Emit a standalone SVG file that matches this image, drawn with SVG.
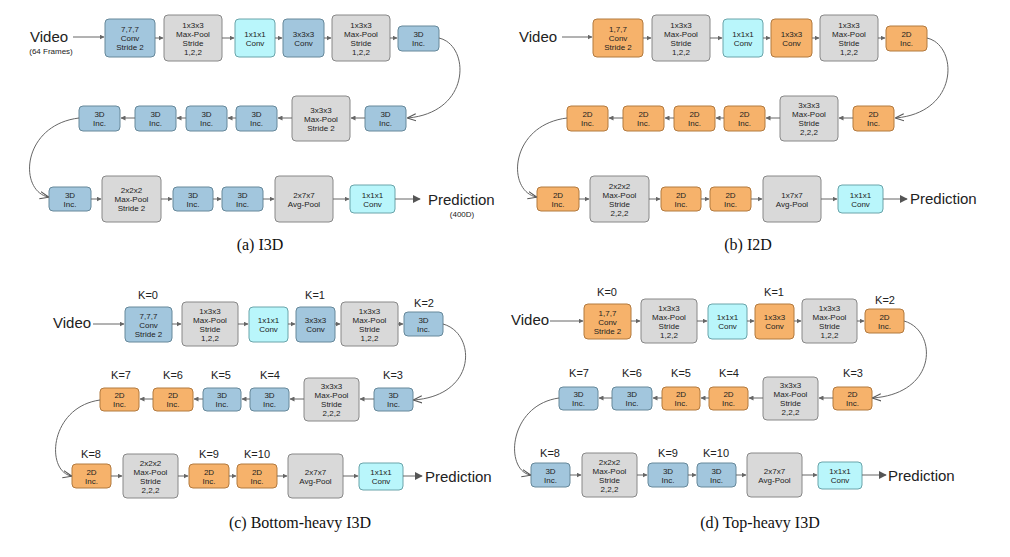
<svg xmlns="http://www.w3.org/2000/svg" width="1010" height="557" viewBox="0 0 1010 557">
<defs>
<marker id="ah" viewBox="0 0 10 10" refX="9" refY="5" markerWidth="5" markerHeight="5" orient="auto"><path d="M0,0L10,5L0,10z" fill="#666"/></marker>
<marker id="ab" viewBox="0 0 10 10" refX="9" refY="5" markerWidth="8" markerHeight="8" orient="auto"><path d="M0,0L10,5L0,10z" fill="#555"/></marker>
<marker id="ao" viewBox="0 0 10 10" refX="9" refY="5" markerWidth="9" markerHeight="9" orient="auto"><path d="M0,1L10,5L0,9" fill="none" stroke="#555" stroke-width="1.2"/></marker>
<style>
rect{stroke-width:1;rx:4}
.b{fill:#a2c6dd;stroke:#66889a}
.o{fill:#f6b26b;stroke:#b27a3f}
.g{fill:#d9d9d9;stroke:#888}
.c{fill:#b9f6fb;stroke:#6aa4aa}
text{font-family:"Liberation Sans",Arial,sans-serif;fill:#222}
.t{font-size:8px;text-anchor:middle}
.k{font-size:11px;text-anchor:middle}
.v{font-size:15px}
.s{font-size:8px;text-anchor:middle}
.cap{font-family:"Liberation Serif","Times New Roman",serif;font-size:16px;text-anchor:middle;fill:#111}
.e path,.e line{stroke:#666;stroke-width:1;fill:none}
</style>
</defs>

<!-- ===== Panel (a) ===== -->
<g id="a-nodes">
<text class="v" x="30" y="42">Video</text><text class="s" x="51" y="54">(64 Frames)</text>
<g id="a1"><rect class="b" x="105" y="19" width="50" height="38"/><text class="t" x="130" y="32">7,7,7</text><text class="t" x="130" y="41">Conv</text><text class="t" x="130" y="50">Stride 2</text></g>
<g id="a2"><rect class="g" x="164" y="15" width="58" height="46"/><text class="t" x="193" y="27.5">1x3x3</text><text class="t" x="193" y="36.5">Max-Pool</text><text class="t" x="193" y="45.5">Stride</text><text class="t" x="193" y="54.5">1,2,2</text></g>
<g id="a3"><rect class="c" x="235" y="19" width="40" height="38"/><text class="t" x="255" y="36.5">1x1x1</text><text class="t" x="255" y="45.5">Conv</text></g>
<g id="a4"><rect class="b" x="283" y="19" width="41" height="38"/><text class="t" x="303.5" y="36.5">3x3x3</text><text class="t" x="303.5" y="45.5">Conv</text></g>
<g id="a5"><rect class="g" x="332" y="15" width="58" height="46"/><text class="t" x="361" y="27.5">1x3x3</text><text class="t" x="361" y="36.5">Max-Pool</text><text class="t" x="361" y="45.5">Stride</text><text class="t" x="361" y="54.5">1,2,2</text></g>
<g id="a6"><rect class="b" x="398" y="26" width="41" height="25"/><text class="t" x="418.5" y="36.5">3D</text><text class="t" x="418.5" y="45.5">Inc.</text></g>
<g id="a7"><rect class="b" x="365" y="106" width="41" height="25"/><text class="t" x="385.5" y="117">3D</text><text class="t" x="385.5" y="126">Inc.</text></g>
<g id="a8"><rect class="g" x="292" y="96" width="58" height="45"/><text class="t" x="321" y="112.5">3x3x3</text><text class="t" x="321" y="121.5">Max-Pool</text><text class="t" x="321" y="130.5">Stride 2</text></g>
<g id="a9"><rect class="b" x="236" y="106" width="41" height="25"/><text class="t" x="256.5" y="117">3D</text><text class="t" x="256.5" y="126">Inc.</text></g>
<g id="a10"><rect class="b" x="186" y="106" width="41" height="25"/><text class="t" x="206.5" y="117">3D</text><text class="t" x="206.5" y="126">Inc.</text></g>
<g id="a11"><rect class="b" x="135" y="106" width="41" height="25"/><text class="t" x="155.5" y="117">3D</text><text class="t" x="155.5" y="126">Inc.</text></g>
<g id="a12"><rect class="b" x="79" y="106" width="41" height="25"/><text class="t" x="99.5" y="117">3D</text><text class="t" x="99.5" y="126">Inc.</text></g>
<g id="a13"><rect class="b" x="49" y="187" width="42" height="24"/><text class="t" x="70" y="197.5">3D</text><text class="t" x="70" y="206.5">Inc.</text></g>
<g id="a14"><rect class="g" x="102" y="176" width="59" height="46"/><text class="t" x="131.5" y="193">2x2x2</text><text class="t" x="131.5" y="202">Max-Pool</text><text class="t" x="131.5" y="211">Stride 2</text></g>
<g id="a15"><rect class="b" x="173" y="187" width="40" height="24"/><text class="t" x="193" y="197.5">3D</text><text class="t" x="193" y="206.5">Inc.</text></g>
<g id="a16"><rect class="b" x="222" y="187" width="41" height="24"/><text class="t" x="242.5" y="197.5">3D</text><text class="t" x="242.5" y="206.5">Inc.</text></g>
<g id="a17"><rect class="g" x="275" y="176" width="58" height="46"/><text class="t" x="304" y="197.5">2x7x7</text><text class="t" x="304" y="206.5">Avg-Pool</text></g>
<g id="a18"><rect class="c" x="350" y="185" width="45" height="28"/><text class="t" x="372.5" y="197.5">1x1x1</text><text class="t" x="372.5" y="206.5">Conv</text></g>
<text class="v" x="428" y="205">Prediction</text><text class="s" x="462" y="217">(400D)</text>
</g>
<g id="a-edges" class="e">
<line x1="73" y1="37" x2="104" y2="37" marker-end="url(#ah)"/>
<line x1="155" y1="38" x2="163" y2="38" marker-end="url(#ah)"/>
<line x1="222" y1="38" x2="234" y2="38" marker-end="url(#ah)"/>
<line x1="275" y1="38" x2="282" y2="38" marker-end="url(#ah)"/>
<line x1="324" y1="38" x2="331" y2="38" marker-end="url(#ah)"/>
<line x1="390" y1="38" x2="397" y2="38" marker-end="url(#ah)"/>
<path d="M439,38 C470,45 472,112 408,118" marker-end="url(#ao)"/>
<line x1="365" y1="118" x2="351" y2="118" marker-end="url(#ah)"/>
<line x1="292" y1="118" x2="278" y2="118" marker-end="url(#ah)"/>
<line x1="236" y1="118" x2="228" y2="118" marker-end="url(#ah)"/>
<line x1="186" y1="118" x2="177" y2="118" marker-end="url(#ah)"/>
<line x1="135" y1="118" x2="121" y2="118" marker-end="url(#ah)"/>
<path d="M79,118 C22,125 18,190 48,197" marker-end="url(#ao)"/>
<line x1="91" y1="199" x2="101" y2="199" marker-end="url(#ah)"/>
<line x1="161" y1="199" x2="172" y2="199" marker-end="url(#ah)"/>
<line x1="213" y1="199" x2="221" y2="199" marker-end="url(#ah)"/>
<line x1="263" y1="199" x2="274" y2="199" marker-end="url(#ah)"/>
<line x1="333" y1="199" x2="349" y2="199" marker-end="url(#ah)"/>
<line x1="395" y1="199" x2="420" y2="199" marker-end="url(#ab)"/>
</g>
<text class="cap" x="260" y="250">(a)  I3D</text>

<!-- ===== Panel (b) ===== -->
<g id="b-nodes">
<text class="v" x="519" y="42">Video</text>
<g id="b1"><rect class="o" x="593" y="19" width="50" height="38"/><text class="t" x="618" y="32">1,7,7</text><text class="t" x="618" y="41">Conv</text><text class="t" x="618" y="50">Stride 2</text></g>
<g id="b2"><rect class="g" x="652" y="15" width="58" height="46"/><text class="t" x="681" y="27.5">1x3x3</text><text class="t" x="681" y="36.5">Max-Pool</text><text class="t" x="681" y="45.5">Stride</text><text class="t" x="681" y="54.5">1,2,2</text></g>
<g id="b3"><rect class="c" x="723" y="19" width="40" height="38"/><text class="t" x="743" y="36.5">1x1x1</text><text class="t" x="743" y="45.5">Conv</text></g>
<g id="b4"><rect class="o" x="771" y="19" width="41" height="38"/><text class="t" x="791.5" y="36.5">1x3x3</text><text class="t" x="791.5" y="45.5">Conv</text></g>
<g id="b5"><rect class="g" x="820" y="15" width="58" height="46"/><text class="t" x="849" y="27.5">1x3x3</text><text class="t" x="849" y="36.5">Max-Pool</text><text class="t" x="849" y="45.5">Stride</text><text class="t" x="849" y="54.5">1,2,2</text></g>
<g id="b6"><rect class="o" x="886" y="26" width="41" height="25"/><text class="t" x="906.5" y="36.5">2D</text><text class="t" x="906.5" y="45.5">Inc.</text></g>
<g id="b7"><rect class="o" x="853" y="106" width="41" height="25"/><text class="t" x="873.5" y="117">2D</text><text class="t" x="873.5" y="126">Inc.</text></g>
<g id="b8"><rect class="g" x="780" y="96" width="58" height="45"/><text class="t" x="809" y="108">3x3x3</text><text class="t" x="809" y="117">Max-Pool</text><text class="t" x="809" y="126">Stride</text><text class="t" x="809" y="135">2,2,2</text></g>
<g id="b9"><rect class="o" x="724" y="106" width="41" height="25"/><text class="t" x="744.5" y="117">2D</text><text class="t" x="744.5" y="126">Inc.</text></g>
<g id="b10"><rect class="o" x="674" y="106" width="41" height="25"/><text class="t" x="694.5" y="117">2D</text><text class="t" x="694.5" y="126">Inc.</text></g>
<g id="b11"><rect class="o" x="623" y="106" width="41" height="25"/><text class="t" x="643.5" y="117">2D</text><text class="t" x="643.5" y="126">Inc.</text></g>
<g id="b12"><rect class="o" x="567" y="106" width="41" height="25"/><text class="t" x="587.5" y="117">2D</text><text class="t" x="587.5" y="126">Inc.</text></g>
<g id="b13"><rect class="o" x="537" y="187" width="42" height="24"/><text class="t" x="558" y="197.5">2D</text><text class="t" x="558" y="206.5">Inc.</text></g>
<g id="b14"><rect class="g" x="590" y="176" width="59" height="46"/><text class="t" x="619.5" y="188.5">2x2x2</text><text class="t" x="619.5" y="197.5">Max-Pool</text><text class="t" x="619.5" y="206.5">Stride</text><text class="t" x="619.5" y="215.5">2,2,2</text></g>
<g id="b15"><rect class="o" x="661" y="187" width="40" height="24"/><text class="t" x="681" y="197.5">2D</text><text class="t" x="681" y="206.5">Inc.</text></g>
<g id="b16"><rect class="o" x="710" y="187" width="41" height="24"/><text class="t" x="730.5" y="197.5">2D</text><text class="t" x="730.5" y="206.5">Inc.</text></g>
<g id="b17"><rect class="g" x="763" y="176" width="58" height="46"/><text class="t" x="792" y="197.5">1x7x7</text><text class="t" x="792" y="206.5">Avg-Pool</text></g>
<g id="b18"><rect class="c" x="838" y="185" width="45" height="28"/><text class="t" x="860.5" y="197.5">1x1x1</text><text class="t" x="860.5" y="206.5">Conv</text></g>
<text class="v" x="910" y="204">Prediction</text>
</g>
<g id="b-edges" class="e">
<line x1="562" y1="37" x2="592" y2="37" marker-end="url(#ah)"/>
<line x1="643" y1="38" x2="651" y2="38" marker-end="url(#ah)"/>
<line x1="710" y1="38" x2="722" y2="38" marker-end="url(#ah)"/>
<line x1="763" y1="38" x2="770" y2="38" marker-end="url(#ah)"/>
<line x1="812" y1="38" x2="819" y2="38" marker-end="url(#ah)"/>
<line x1="878" y1="38" x2="885" y2="38" marker-end="url(#ah)"/>
<path d="M927,38 C958,45 960,112 896,118" marker-end="url(#ao)"/>
<line x1="853" y1="118" x2="839" y2="118" marker-end="url(#ah)"/>
<line x1="780" y1="118" x2="766" y2="118" marker-end="url(#ah)"/>
<line x1="724" y1="118" x2="716" y2="118" marker-end="url(#ah)"/>
<line x1="674" y1="118" x2="665" y2="118" marker-end="url(#ah)"/>
<line x1="623" y1="118" x2="609" y2="118" marker-end="url(#ah)"/>
<path d="M567,118 C510,125 506,190 536,197" marker-end="url(#ao)"/>
<line x1="579" y1="199" x2="589" y2="199" marker-end="url(#ah)"/>
<line x1="649" y1="199" x2="660" y2="199" marker-end="url(#ah)"/>
<line x1="701" y1="199" x2="709" y2="199" marker-end="url(#ah)"/>
<line x1="751" y1="199" x2="762" y2="199" marker-end="url(#ah)"/>
<line x1="821" y1="199" x2="837" y2="199" marker-end="url(#ah)"/>
<line x1="883" y1="199" x2="907" y2="199" marker-end="url(#ab)"/>
</g>
<text class="cap" x="748" y="250">(b)  I2D</text>

<!-- ===== Panel (c) ===== -->
<g id="c-nodes">
<text class="v" x="53" y="328">Video</text>
<text class="k" x="148" y="299">K=0</text><text class="k" x="315" y="299">K=1</text><text class="k" x="424" y="307">K=2</text>
<g id="c1"><rect class="b" x="125" y="307" width="47" height="35"/><text class="t" x="148.5" y="318.5">7,7,7</text><text class="t" x="148.5" y="327.5">Conv</text><text class="t" x="148.5" y="336.5">Stride 2</text></g>
<g id="c2"><rect class="g" x="182" y="302" width="56" height="44"/><text class="t" x="210" y="314">1x3x3</text><text class="t" x="210" y="323">Max-Pool</text><text class="t" x="210" y="332">Stride</text><text class="t" x="210" y="341">1,2,2</text></g>
<g id="c3"><rect class="c" x="249" y="307" width="39" height="35"/><text class="t" x="268.5" y="323">1x1x1</text><text class="t" x="268.5" y="332">Conv</text></g>
<g id="c4"><rect class="b" x="296" y="307" width="39" height="35"/><text class="t" x="315.5" y="323">3x3x3</text><text class="t" x="315.5" y="332">Conv</text></g>
<g id="c5"><rect class="g" x="341" y="302" width="57" height="44"/><text class="t" x="369.5" y="314">1x3x3</text><text class="t" x="369.5" y="323">Max-Pool</text><text class="t" x="369.5" y="332">Stride</text><text class="t" x="369.5" y="341">1,2,2</text></g>
<g id="c6"><rect class="b" x="404" y="312" width="39" height="24"/><text class="t" x="423.5" y="322.5">3D</text><text class="t" x="423.5" y="331.5">Inc.</text></g>
<text class="k" x="393" y="379">K=3</text><text class="k" x="270" y="379">K=4</text><text class="k" x="221" y="379">K=5</text><text class="k" x="173" y="379">K=6</text><text class="k" x="121" y="379">K=7</text>
<g id="c7"><rect class="b" x="374" y="388" width="39" height="23"/><text class="t" x="393.5" y="398">3D</text><text class="t" x="393.5" y="407">Inc.</text></g>
<g id="c8"><rect class="g" x="304" y="378" width="55" height="43"/><text class="t" x="331.5" y="389">3x3x3</text><text class="t" x="331.5" y="398">Max-Pool</text><text class="t" x="331.5" y="407">Stride</text><text class="t" x="331.5" y="416">2,2,2</text></g>
<g id="c9"><rect class="b" x="250" y="388" width="39" height="23"/><text class="t" x="269.5" y="398">3D</text><text class="t" x="269.5" y="407">Inc.</text></g>
<g id="c10"><rect class="b" x="203" y="388" width="38" height="23"/><text class="t" x="222" y="398">3D</text><text class="t" x="222" y="407">Inc.</text></g>
<g id="c11"><rect class="o" x="153" y="388" width="40" height="23"/><text class="t" x="173" y="398">2D</text><text class="t" x="173" y="407">Inc.</text></g>
<g id="c12"><rect class="o" x="100" y="388" width="39" height="23"/><text class="t" x="119.5" y="398">2D</text><text class="t" x="119.5" y="407">Inc.</text></g>
<text class="k" x="91" y="458">K=8</text><text class="k" x="209" y="458">K=9</text><text class="k" x="257" y="458">K=10</text>
<g id="c13"><rect class="o" x="72" y="464" width="39" height="24"/><text class="t" x="91.5" y="474.5">2D</text><text class="t" x="91.5" y="483.5">Inc.</text></g>
<g id="c14"><rect class="g" x="123" y="454" width="55" height="44"/><text class="t" x="150.5" y="465.5">2x2x2</text><text class="t" x="150.5" y="474.5">Max-Pool</text><text class="t" x="150.5" y="483.5">Stride</text><text class="t" x="150.5" y="492.5">2,2,2</text></g>
<g id="c15"><rect class="o" x="189" y="464" width="40" height="24"/><text class="t" x="209" y="474.5">2D</text><text class="t" x="209" y="483.5">Inc.</text></g>
<g id="c16"><rect class="o" x="237" y="464" width="40" height="24"/><text class="t" x="257" y="474.5">2D</text><text class="t" x="257" y="483.5">Inc.</text></g>
<g id="c17"><rect class="g" x="288" y="454" width="55" height="44"/><text class="t" x="315.5" y="474.5">2x7x7</text><text class="t" x="315.5" y="483.5">Avg-Pool</text></g>
<g id="c18"><rect class="c" x="359" y="463" width="44" height="27"/><text class="t" x="381" y="474.5">1x1x1</text><text class="t" x="381" y="483.5">Conv</text></g>
<text class="v" x="425" y="482">Prediction</text>
</g>
<g id="c-edges" class="e">
<line x1="93" y1="324" x2="124" y2="324" marker-end="url(#ah)"/>
<line x1="172" y1="324" x2="181" y2="324" marker-end="url(#ah)"/>
<line x1="238" y1="324" x2="248" y2="324" marker-end="url(#ah)"/>
<line x1="288" y1="324" x2="295" y2="324" marker-end="url(#ah)"/>
<line x1="335" y1="324" x2="340" y2="324" marker-end="url(#ah)"/>
<line x1="398" y1="324" x2="403" y2="324" marker-end="url(#ah)"/>
<path d="M443,324 C476,333 478,395 414,400" marker-end="url(#ao)"/>
<line x1="374" y1="399" x2="360" y2="399" marker-end="url(#ah)"/>
<line x1="304" y1="399" x2="290" y2="399" marker-end="url(#ah)"/>
<line x1="250" y1="399" x2="242" y2="399" marker-end="url(#ah)"/>
<line x1="203" y1="399" x2="194" y2="399" marker-end="url(#ah)"/>
<line x1="153" y1="399" x2="140" y2="399" marker-end="url(#ah)"/>
<path d="M100,400 C50,407 45,470 71,476" marker-end="url(#ao)"/>
<line x1="111" y1="476" x2="122" y2="476" marker-end="url(#ah)"/>
<line x1="178" y1="476" x2="188" y2="476" marker-end="url(#ah)"/>
<line x1="229" y1="476" x2="236" y2="476" marker-end="url(#ah)"/>
<line x1="277" y1="476" x2="287" y2="476" marker-end="url(#ah)"/>
<line x1="343" y1="476" x2="358" y2="476" marker-end="url(#ah)"/>
<line x1="403" y1="476" x2="422" y2="476" marker-end="url(#ab)"/>
</g>
<text class="cap" x="300" y="528">(c)  Bottom-heavy I3D</text>

<!-- ===== Panel (d) ===== -->
<g id="d-nodes">
<text class="v" x="511" y="325">Video</text>
<text class="k" x="607" y="296">K=0</text><text class="k" x="774" y="296">K=1</text><text class="k" x="885" y="304">K=2</text>
<g id="d1"><rect class="o" x="584" y="304" width="47" height="35"/><text class="t" x="607.5" y="315.5">1,7,7</text><text class="t" x="607.5" y="324.5">Conv</text><text class="t" x="607.5" y="333.5">Stride 2</text></g>
<g id="d2"><rect class="g" x="641" y="299" width="56" height="44"/><text class="t" x="669" y="311">1x3x3</text><text class="t" x="669" y="320">Max-Pool</text><text class="t" x="669" y="329">Stride</text><text class="t" x="669" y="338">1,2,2</text></g>
<g id="d3"><rect class="c" x="708" y="304" width="39" height="35"/><text class="t" x="727.5" y="320">1x1x1</text><text class="t" x="727.5" y="329">Conv</text></g>
<g id="d4"><rect class="o" x="755" y="304" width="39" height="35"/><text class="t" x="774.5" y="320">1x3x3</text><text class="t" x="774.5" y="329">Conv</text></g>
<g id="d5"><rect class="g" x="802" y="299" width="55" height="44"/><text class="t" x="829.5" y="311">1x3x3</text><text class="t" x="829.5" y="320">Max-Pool</text><text class="t" x="829.5" y="329">Stride</text><text class="t" x="829.5" y="338">1,2,2</text></g>
<g id="d6"><rect class="o" x="865" y="309" width="39" height="24"/><text class="t" x="884.5" y="319.5">2D</text><text class="t" x="884.5" y="328.5">Inc.</text></g>
<text class="k" x="853" y="377">K=3</text><text class="k" x="729" y="377">K=4</text><text class="k" x="681" y="377">K=5</text><text class="k" x="632" y="377">K=6</text><text class="k" x="579" y="377">K=7</text>
<g id="d7"><rect class="o" x="833" y="387" width="39" height="23"/><text class="t" x="852.5" y="397">2D</text><text class="t" x="852.5" y="406">Inc.</text></g>
<g id="d8"><rect class="g" x="763" y="377" width="55" height="43"/><text class="t" x="790.5" y="388">3x3x3</text><text class="t" x="790.5" y="397">Max-Pool</text><text class="t" x="790.5" y="406">Stride</text><text class="t" x="790.5" y="415">2,2,2</text></g>
<g id="d9"><rect class="o" x="709" y="387" width="39" height="23"/><text class="t" x="728.5" y="397">2D</text><text class="t" x="728.5" y="406">Inc.</text></g>
<g id="d10"><rect class="o" x="662" y="387" width="38" height="23"/><text class="t" x="681" y="397">2D</text><text class="t" x="681" y="406">Inc.</text></g>
<g id="d11"><rect class="b" x="612" y="387" width="40" height="23"/><text class="t" x="632" y="397">3D</text><text class="t" x="632" y="406">Inc.</text></g>
<g id="d12"><rect class="b" x="559" y="387" width="39" height="23"/><text class="t" x="578.5" y="397">3D</text><text class="t" x="578.5" y="406">Inc.</text></g>
<text class="k" x="550" y="457">K=8</text><text class="k" x="668" y="457">K=9</text><text class="k" x="716" y="457">K=10</text>
<g id="d13"><rect class="b" x="531" y="463" width="39" height="24"/><text class="t" x="550.5" y="473.5">3D</text><text class="t" x="550.5" y="482.5">Inc.</text></g>
<g id="d14"><rect class="g" x="582" y="453" width="55" height="44"/><text class="t" x="609.5" y="464.5">2x2x2</text><text class="t" x="609.5" y="473.5">Max-Pool</text><text class="t" x="609.5" y="482.5">Stride</text><text class="t" x="609.5" y="491.5">2,2,2</text></g>
<g id="d15"><rect class="b" x="648" y="463" width="40" height="24"/><text class="t" x="668" y="473.5">3D</text><text class="t" x="668" y="482.5">Inc.</text></g>
<g id="d16"><rect class="b" x="697" y="463" width="39" height="24"/><text class="t" x="716.5" y="473.5">3D</text><text class="t" x="716.5" y="482.5">Inc.</text></g>
<g id="d17"><rect class="g" x="747" y="453" width="55" height="44"/><text class="t" x="774.5" y="473.5">2x7x7</text><text class="t" x="774.5" y="482.5">Avg-Pool</text></g>
<g id="d18"><rect class="c" x="818" y="462" width="44" height="27"/><text class="t" x="840" y="473.5">1x1x1</text><text class="t" x="840" y="482.5">Conv</text></g>
<text class="v" x="888" y="481">Prediction</text>
</g>
<g id="d-edges" class="e">
<line x1="550" y1="321" x2="583" y2="321" marker-end="url(#ah)"/>
<line x1="631" y1="321" x2="640" y2="321" marker-end="url(#ah)"/>
<line x1="697" y1="321" x2="707" y2="321" marker-end="url(#ah)"/>
<line x1="747" y1="321" x2="754" y2="321" marker-end="url(#ah)"/>
<line x1="794" y1="321" x2="801" y2="321" marker-end="url(#ah)"/>
<line x1="857" y1="321" x2="864" y2="321" marker-end="url(#ah)"/>
<path d="M904,321 C937,330 939,393 873,398" marker-end="url(#ao)"/>
<line x1="833" y1="398" x2="819" y2="398" marker-end="url(#ah)"/>
<line x1="763" y1="398" x2="749" y2="398" marker-end="url(#ah)"/>
<line x1="709" y1="398" x2="701" y2="398" marker-end="url(#ah)"/>
<line x1="662" y1="398" x2="653" y2="398" marker-end="url(#ah)"/>
<line x1="612" y1="398" x2="599" y2="398" marker-end="url(#ah)"/>
<path d="M559,398 C509,405 504,469 530,475" marker-end="url(#ao)"/>
<line x1="570" y1="475" x2="581" y2="475" marker-end="url(#ah)"/>
<line x1="637" y1="475" x2="647" y2="475" marker-end="url(#ah)"/>
<line x1="688" y1="475" x2="696" y2="475" marker-end="url(#ah)"/>
<line x1="736" y1="475" x2="746" y2="475" marker-end="url(#ah)"/>
<line x1="802" y1="475" x2="817" y2="475" marker-end="url(#ah)"/>
<line x1="862" y1="475" x2="886" y2="475" marker-end="url(#ab)"/>
</g>
<text class="cap" x="760" y="528">(d)  Top-heavy I3D</text>
</svg>
